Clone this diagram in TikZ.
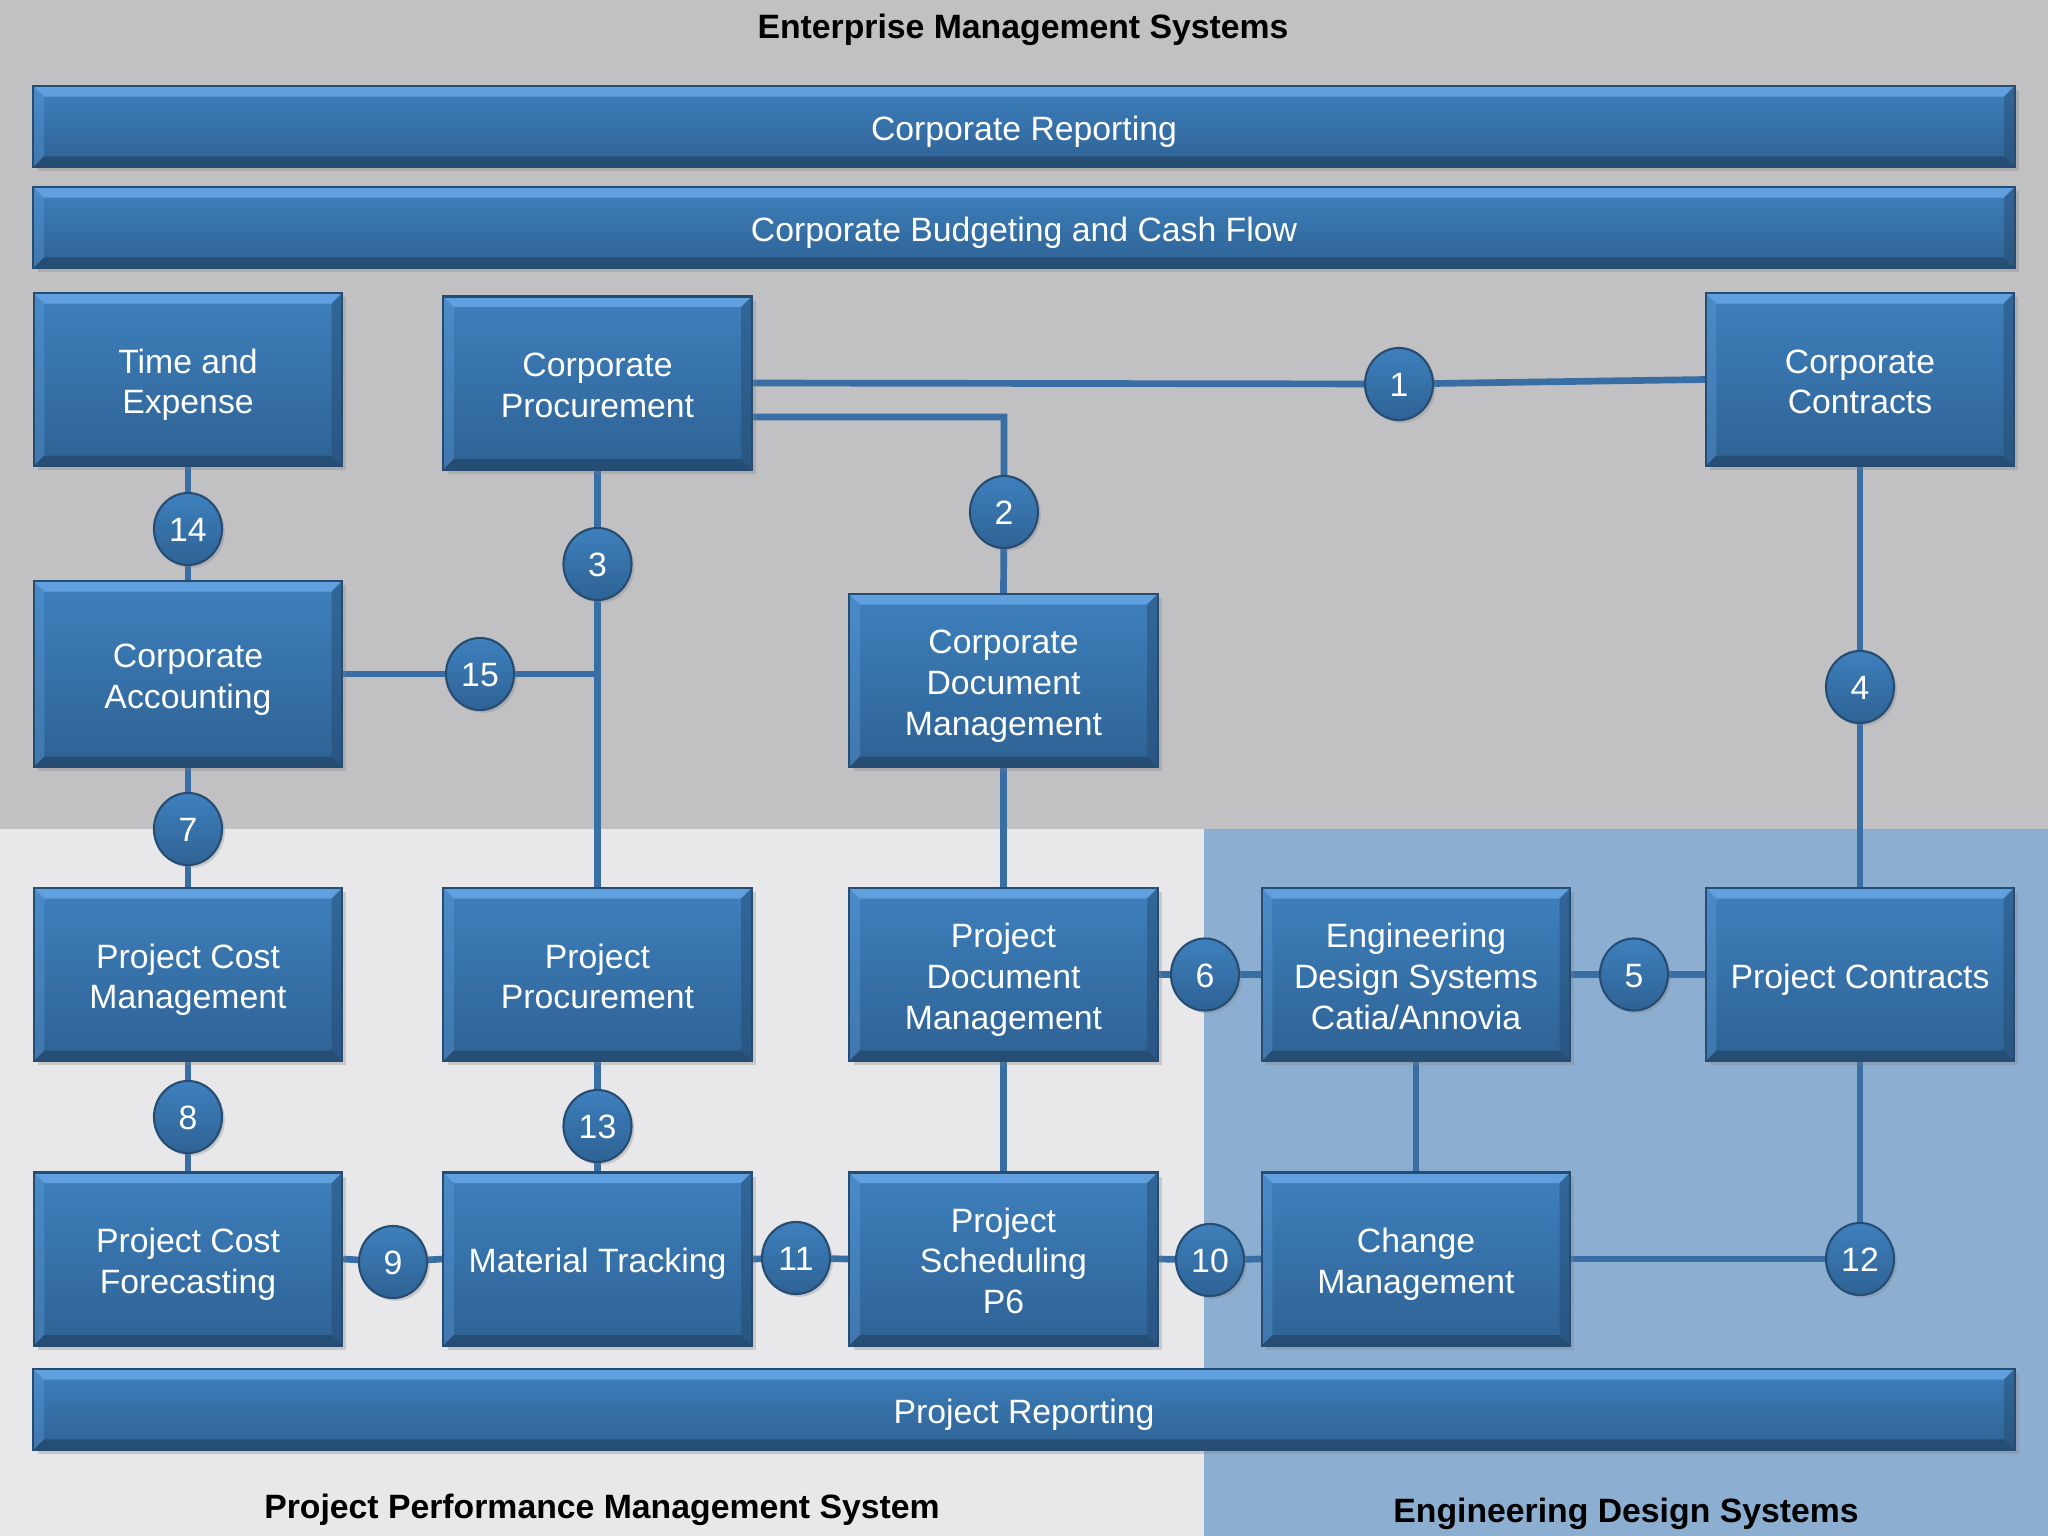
\documentclass[tikz,border=0pt]{standalone}
\usepackage{fontspec}
\setmainfont{Liberation Sans}
\usetikzlibrary{shapes.geometric,shadows}
\pgfdeclarelayer{bg}
\pgfdeclarelayer{edges}
\pgfsetlayers{bg,edges,main}
\definecolor{bgGray}{RGB}{193,192,194}
\definecolor{bgLight}{RGB}{232,232,234}
\definecolor{bgBlue}{RGB}{139,174,209}
\definecolor{boxTop}{RGB}{62,128,189}
\definecolor{boxBot}{RGB}{46,98,148}
\definecolor{boxBorder}{RGB}{38,76,114}
\definecolor{bevelLight}{RGB}{96,160,222}
\definecolor{bevelDark}{RGB}{36,72,108}
\definecolor{connColor}{RGB}{56,110,164}
\newcommand{\boxfont}{\fontsize{9.6pt}{11.6pt}\selectfont}
\newcommand{\titlefont}{\fontsize{9.6pt}{11.6pt}\selectfont\bfseries}
\newcommand{\fs}{\rule{0pt}{10pt}}
\tikzset{
  bevel/.style={path picture={
    \fill[bevelLight] (path picture bounding box.north west) -- (path picture bounding box.north east)
      -- ([shift={(-3pt,-3pt)}]path picture bounding box.north east) -- ([shift={(3pt,-3pt)}]path picture bounding box.north west) -- cycle;
    \fill[bevelLight,opacity=0.35] (path picture bounding box.north west) -- ([shift={(3pt,-3pt)}]path picture bounding box.north west)
      -- ([shift={(3pt,3pt)}]path picture bounding box.south west) -- (path picture bounding box.south west) -- cycle;
    \fill[bevelDark,opacity=0.45] (path picture bounding box.north east) -- ([shift={(-3pt,-3pt)}]path picture bounding box.north east)
      -- ([shift={(-3pt,3pt)}]path picture bounding box.south east) -- (path picture bounding box.south east) -- cycle;
    \fill[bevelDark,opacity=0.8] (path picture bounding box.south west) -- (path picture bounding box.south east)
      -- ([shift={(-3pt,3pt)}]path picture bounding box.south east) -- ([shift={(3pt,3pt)}]path picture bounding box.south west) -- cycle;
  }},
  linestruts/.style={execute at end node={\rule[-2.1pt]{0pt}{2.1pt}}},
  sysbox/.style={draw=boxBorder, line width=0.6pt, top color=boxTop, bottom color=boxBot,
    text=white, align=center, font=\boxfont, inner sep=2pt, bevel, linestruts,
    drop shadow={shadow xshift=1.2pt, shadow yshift=-1.2pt, opacity=0.3}},
  bar/.style={sysbox, minimum width=19.80cm, minimum height=0.81cm},
  bx/.style={sysbox, minimum width=3.08cm, minimum height=1.73cm},
  num/.style={ellipse, draw=boxBorder, line width=0.6pt, top color=boxTop, bottom color=boxBot,
    minimum width=0.68cm, minimum height=0.72cm, inner sep=0pt, text=white, font=\boxfont,
    execute at begin node={\rule{0pt}{9.2pt}}, linestruts,
    drop shadow={shadow xshift=0.8pt, shadow yshift=-0.8pt, opacity=0.3}},
  conn/.style={draw=connColor, line width=1.9pt},
  heading/.style={font=\titlefont, text=black}
}
\begin{document}
\begin{tikzpicture}[x=0.01cm,y=-0.01cm]
\useasboundingbox (0,0) rectangle (2048,1536);
\begin{pgfonlayer}{bg}
  \fill[bgGray] (0,0) rectangle (2048,829);
  \fill[bgLight] (0,829) rectangle (1204,1536);
  \fill[bgBlue] (1204,829) rectangle (2048,1536);
\end{pgfonlayer}

% headings
\node[heading] (hEMS) at (1023,30) {Enterprise Management Systems};
\node[heading] (hPPM) at (602,1510) {Project Performance Management System};
\node[heading] (hEDS) at (1626,1514) {Engineering Design Systems};

% bars
\node[bar] (CR) at (1024,126.5) {\fs Corporate Reporting};
\node[bar] (CB) at (1024,227.5) {\fs Corporate Budgeting and Cash Flow};
\node[bar] (PR) at (1024,1409.5) {\fs Project Reporting};

% boxes
\node[bx] (TE) at (188,379.5) {\fs Time and\\Expense};
\node[bx] (CP) at (597.5,383) {\fs Corporate\\Procurement};
\node[bx] (CC) at (1860,379.5) {\fs Corporate\\Contracts};
\node[bx, minimum height=1.86cm] (CA) at (188,674) {\fs Corporate\\Accounting};
\node[bx] (CDM) at (1003.5,680.5) {\fs Corporate\\Document\\Management};
\node[bx] (PCM) at (188,974.5) {\fs Project Cost\\Management};
\node[bx] (PP) at (597.5,974.5) {\fs Project\\Procurement};
\node[bx] (PDM) at (1003.5,974.5) {\fs Project\\Document\\Management};
\node[bx] (EDS) at (1416,974.5) {\fs Engineering\\Design Systems\\Catia/Annovia};
\node[bx] (PC) at (1860,974.5) {\fs Project Contracts};
\node[bx] (PCF) at (188,1259) {\fs Project Cost\\Forecasting};
\node[bx] (MT) at (597.5,1259) {\fs Material Tracking};
\node[bx] (PS) at (1003.5,1259) {\fs Project\\Scheduling\\P6};
\node[bx] (CM) at (1416,1259) {\fs Change\\Management};

% numbered circles
\node[num] (n1) at (1399,384) {1};
\node[num] (n2) at (1004,512) {2};
\node[num] (n3) at (597.5,564) {3};
\node[num] (n4) at (1860,687) {4};
\node[num] (n5) at (1634,974.5) {5};
\node[num] (n6) at (1205,974.5) {6};
\node[num] (n7) at (188,829) {7};
\node[num] (n8) at (188,1117) {8};
\node[num] (n9) at (393,1262) {9};
\node[num] (n10) at (1210,1260) {10};
\node[num] (n11) at (796,1258) {11};
\node[num] (n12) at (1860,1259) {12};
\node[num] (n13) at (597.5,1126) {13};
\node[num] (n14) at (188,529) {14};
\node[num] (n15) at (480,674) {15};

\coordinate (cpo) at (751,417);
\coordinate (cpj) at (597.5,674);

\begin{pgfonlayer}{edges}
  \draw[conn] (CP.east) -- (n1) -- (CC.west);
  \draw[conn] (cpo) -| (n2) -- (CDM.north);
  \draw[conn] (CP.south) -- (n3) -- (PP.north);
  \draw[conn] (CA.east) -- (n15) -- (cpj);
  \draw[conn] (TE.south) -- (n14) -- (CA.north);
  \draw[conn] (CA.south) -- (n7) -- (PCM.north);
  \draw[conn] (CC.south) -- (n4) -- (PC.north);
  \draw[conn] (CDM.south) -- (PDM.north);
  \draw[conn] (PDM.east) -- (n6) -- (EDS.west);
  \draw[conn] (EDS.east) -- (n5) -- (PC.west);
  \draw[conn] (PCM.south) -- (n8) -- (PCF.north);
  \draw[conn] (PP.south) -- (n13) -- (MT.north);
  \draw[conn] (PCF.east) -- (n9) -- (MT.west);
  \draw[conn] (MT.east) -- (n11) -- (PS.west);
  \draw[conn] (PDM.south) -- (PS.north);
  \draw[conn] (PS.east) -- (n10) -- (CM.west);
  \draw[conn] (EDS.south) -- (CM.north);
  \draw[conn] (CM.east) -- (n12) -- (PC.south);
\end{pgfonlayer}
\end{tikzpicture}
\end{document}
